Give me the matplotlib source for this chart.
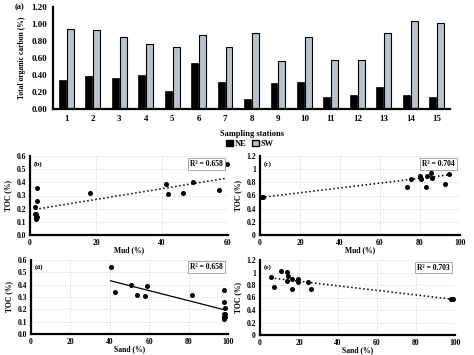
import numpy as np
import matplotlib
matplotlib.use("Agg")
import matplotlib.pyplot as plt
from matplotlib.patches import Patch

plt.rcParams['font.family'] = ['Liberation Serif', 'DejaVu Serif']
plt.rcParams['font.weight'] = 'bold'

stations = [str(i) for i in range(1, 16)]
toc_ne = [0.34, 0.39, 0.36, 0.40, 0.21, 0.54, 0.32, 0.12, 0.31, 0.32, 0.14, 0.16, 0.26, 0.16, 0.14]
toc_sw = [0.94, 0.93, 0.85, 0.77, 0.73, 0.87, 0.73, 0.90, 0.57, 0.85, 0.58, 0.58, 0.89, 1.03, 1.01]

mud_ne = [57.4, 41.1, 2.2, 49.3, 1.6, 59.6, 46.3, 1.8, 41.9, 18.2, 1.7, 1.9, 2.0, 1.6, 2.0]
sand_ne = [42.6, 58.9, 97.8, 50.7, 98.4, 40.4, 53.7, 98.2, 58.1, 81.8, 98.3, 98.1, 98.0, 98.4, 98.0]
mud_sw = [85.3, 94.5, 75.3, 92.5, 73.7, 85.8, 83.0, 80.0, 1.0, 80.5, 0.5, 1.5, 83.3, 88.8, 85.3]
sand_sw = [14.2, 5.5, 24.4, 7.2, 26.2, 13.7, 16.6, 19.3, 98.6, 19.3, 99.2, 98.2, 16.2, 10.8, 14.0]

r2_labels = ['R² = 0.658', 'R² = 0.704', 'R² = 0.658', 'R² = 0.703']
panel_labels = ['(b)', '(c)', '(d)', '(e)']

W, H = 474, 355
fig = plt.figure(figsize=(W / 100, H / 100), dpi=100)


def ax_px(l, r, t, b):
    return fig.add_axes([l / W, 1 - b / H, (r - l) / W, (b - t) / H])


# Panel (a)
ax = ax_px(53, 450, 7, 109)
x = np.arange(len(stations))
w = 0.26
ax.bar(x - 0.15, toc_ne, w, color='black', edgecolor='black', linewidth=0.5, label='NE')
ax.bar(x + 0.15, toc_sw, w, color='#b7c3cc', edgecolor='black', linewidth=0.8, label='SW')
ax.set_xlim(-0.5, 14.5)
ax.set_ylim(0, 1.2)
ax.set_yticks(np.arange(0, 1.21, 0.2))
ax.set_yticklabels([f'{v:.2f}' for v in np.arange(0, 1.21, 0.2)])
ax.set_xticks(x)
ax.set_xticklabels(stations)
for s in ['top', 'right']:
    ax.spines[s].set_visible(False)
for s in ['left', 'bottom']:
    ax.spines[s].set_linewidth(1.6)
ax.tick_params(length=0, labelsize=6.5, pad=4)
ax.set_xlabel('Sampling stations', fontsize=6, fontweight='bold', labelpad=5)
ax.set_ylabel('Total organic carbon (%)', fontsize=5.5, fontweight='bold', labelpad=4)
fig.text(15 / W, 1 - 7 / H, '(a)', fontsize=6, fontweight='bold', va='center', ha='left')
handles = [Patch(facecolor='black', edgecolor='black'), Patch(facecolor='#b7c3cc', edgecolor='black')]
fig.legend(handles, ['NE', 'SW'], loc='center', bbox_to_anchor=(250 / W, 1 - 144 / H), ncol=2,
           frameon=False, fontsize=6, handlelength=0.8, handleheight=0.8, handletextpad=0.3,
           columnspacing=0.6, borderpad=0)

# Scatter panels
specs = [
    (mud_ne, toc_ne, (30, 228, 156, 235), (0, 60), [0, 20, 40, 60], (0, 0.6), 'Mud (%)', ':', 'ne'),
    (mud_sw, toc_sw, (260, 460, 156, 235), (0, 100), [0, 20, 40, 60, 80, 100], (0, 1.2), 'Mud (%)', ':', 'sw'),
    (sand_ne, toc_ne, (31, 228, 260, 334), (0, 100), [0, 20, 40, 60, 80, 100], (0, 0.6), 'Sand (%)', '-', 'ne'),
    (sand_sw, toc_sw, (260, 455, 260, 335), (0, 100), [0, 20, 40, 60, 80, 100], (0, 1.2), 'Sand (%)', ':', 'sw'),
]
for i, (xs, ys, box, xl, xt, yl, xlab, ls, kind) in enumerate(specs):
    a = ax_px(*box)
    xs = np.array(xs); ys = np.array(ys)
    a.scatter(xs, ys, s=13, color='black', zorder=3, linewidths=0, clip_on=False)
    k, c0 = np.polyfit(xs, ys, 1)
    xx = np.array([xs.min(), xs.max()])
    a.plot(xx, k * xx + c0, color='black', linestyle=ls, linewidth=0.9 if ls == '-' else 1.1, zorder=2)
    a.set_xlim(*xl)
    a.set_ylim(*yl)
    a.set_xticks(xt)
    if kind == 'ne':
        yt = np.arange(0, 0.61, 0.1)
        a.set_yticks(yt)
        a.set_yticklabels([f'{v:.1f}' for v in yt])
    else:
        yt = np.arange(0, 1.21, 0.2)
        a.set_yticks(yt)
        a.set_yticklabels([f'{v:g}' for v in np.round(yt, 1)])
    a.grid(True, color='#d0d0d0', linestyle=(0, (2, 2)), linewidth=0.5)
    a.set_axisbelow(True)
    for s in ['top', 'right']:
        a.spines[s].set_visible(False)
    for s in ['left', 'bottom']:
        a.spines[s].set_linewidth(1.6)
    a.tick_params(length=0, labelsize=5.5, pad=3)
    a.set_xlabel(xlab, fontsize=5.5, fontweight='bold', labelpad=-0.5)
    a.set_ylabel('TOC (%)', fontsize=5.5, fontweight='bold', labelpad=3)
    a.text(0.02, 0.88, panel_labels[i], transform=a.transAxes, fontsize=5, fontweight='bold')
    a.text(0.975, 0.9, r2_labels[i], transform=a.transAxes, fontsize=5.5, fontweight='bold',
           ha='right', va='center',
           bbox=dict(boxstyle='square,pad=0.25', facecolor='white', edgecolor='#999999', linewidth=0.6))

fig.savefig('out.png', dpi=100)
